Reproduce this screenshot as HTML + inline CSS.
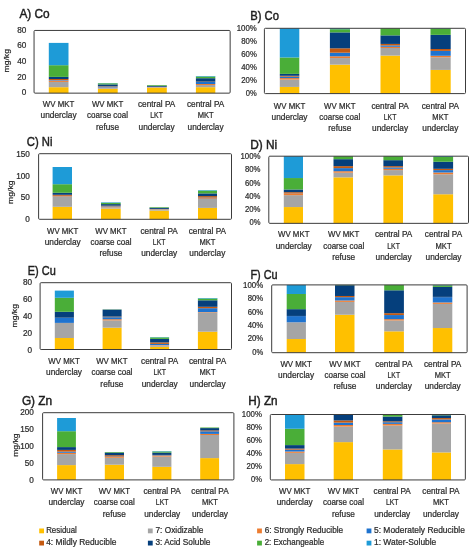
<!DOCTYPE html>
<html><head><meta charset="utf-8"><title>Figure</title>
<style>
html,body{margin:0;padding:0;background:#fff;}
body{width:471px;height:550px;overflow:hidden;}
svg{display:block;will-change:transform;filter:blur(0.35px);}
text{font-family:"Liberation Sans", sans-serif;fill:#2b2b2b;stroke:#2b2b2b;stroke-width:0.22px;}
</style></head><body>
<svg width="471" height="550" viewBox="0 0 471 550">
<rect width="471" height="550" fill="#fff"/>
<rect x="48.8" y="87.2" width="19.7" height="5.95" fill="#FFC000"/>
<rect x="48.8" y="81.9" width="19.7" height="5.3" fill="#A5A5A5"/>
<rect x="48.8" y="80.5" width="19.7" height="1.4" fill="#ED7D31"/>
<rect x="48.8" y="80" width="19.7" height="0.5" fill="#1E73CF"/>
<rect x="48.8" y="79" width="19.7" height="1" fill="#C55A11"/>
<rect x="48.8" y="76.9" width="19.7" height="2.1" fill="#053F7C"/>
<rect x="48.8" y="65.2" width="19.7" height="11.7" fill="#4AAE38"/>
<rect x="48.8" y="42.9" width="19.7" height="22.3" fill="#1E9BD7"/>
<rect x="97.9" y="88.8" width="19.8" height="4.35" fill="#FFC000"/>
<rect x="97.9" y="87.9" width="19.8" height="0.9" fill="#A5A5A5"/>
<rect x="97.9" y="87.5" width="19.8" height="0.4" fill="#ED7D31"/>
<rect x="97.9" y="86.6" width="19.8" height="0.9" fill="#1E73CF"/>
<rect x="97.9" y="86.2" width="19.8" height="0.4" fill="#C55A11"/>
<rect x="97.9" y="84.4" width="19.8" height="1.8" fill="#053F7C"/>
<rect x="97.9" y="83.3" width="19.8" height="1.1" fill="#4AAE38"/>
<rect x="97.9" y="83.1" width="19.8" height="0.2" fill="#1E9BD7"/>
<rect x="147" y="87.7" width="19.8" height="5.45" fill="#FFC000"/>
<rect x="147" y="87.3" width="19.8" height="0.4" fill="#A5A5A5"/>
<rect x="147" y="87.1" width="19.8" height="0.2" fill="#ED7D31"/>
<rect x="147" y="86.95" width="19.8" height="0.15" fill="#1E73CF"/>
<rect x="147" y="86.75" width="19.8" height="0.2" fill="#C55A11"/>
<rect x="147" y="85.8" width="19.8" height="0.95" fill="#053F7C"/>
<rect x="147" y="85.1" width="19.8" height="0.7" fill="#4AAE38"/>
<rect x="195.9" y="87.2" width="19.4" height="5.95" fill="#FFC000"/>
<rect x="195.9" y="85" width="19.4" height="2.2" fill="#A5A5A5"/>
<rect x="195.9" y="84" width="19.4" height="1" fill="#ED7D31"/>
<rect x="195.9" y="82" width="19.4" height="2" fill="#1E73CF"/>
<rect x="195.9" y="81.6" width="19.4" height="0.4" fill="#C55A11"/>
<rect x="195.9" y="78.2" width="19.4" height="3.4" fill="#053F7C"/>
<rect x="195.9" y="76.5" width="19.4" height="1.7" fill="#4AAE38"/>
<rect x="195.9" y="76" width="19.4" height="0.5" fill="#1E9BD7"/>
<rect x="34.05" y="30.45" width="196.1" height="62.7" rx="1" fill="none" stroke="#3C3C3C" stroke-width="1.0"/>
<text x="26.35" y="95.3" text-anchor="end" font-size="8.2">0</text>
<text x="26.35" y="79.63" text-anchor="end" font-size="8.2">20</text>
<text x="26.35" y="63.95" text-anchor="end" font-size="8.2">40</text>
<text x="26.35" y="48.27" text-anchor="end" font-size="8.2">60</text>
<text x="26.35" y="32.6" text-anchor="end" font-size="8.2">80</text>
<text x="58.56" y="107" text-anchor="middle" font-size="8.2" textLength="31.4" lengthAdjust="spacingAndGlyphs">WV MKT</text>
<text x="58.56" y="118.3" text-anchor="middle" font-size="8.2" textLength="36" lengthAdjust="spacingAndGlyphs">underclay</text>
<text x="107.59" y="107" text-anchor="middle" font-size="8.2" textLength="31.4" lengthAdjust="spacingAndGlyphs">WV MKT</text>
<text x="107.59" y="118.3" text-anchor="middle" font-size="8.2" textLength="41" lengthAdjust="spacingAndGlyphs">coarse coal</text>
<text x="107.59" y="129.6" text-anchor="middle" font-size="8.2" textLength="23" lengthAdjust="spacingAndGlyphs">refuse</text>
<text x="156.61" y="107" text-anchor="middle" font-size="8.2" textLength="37.3" lengthAdjust="spacingAndGlyphs">central PA</text>
<text x="156.61" y="118.3" text-anchor="middle" font-size="8.2" textLength="12.6" lengthAdjust="spacingAndGlyphs">LKT</text>
<text x="156.61" y="129.6" text-anchor="middle" font-size="8.2" textLength="36" lengthAdjust="spacingAndGlyphs">underclay</text>
<text x="205.64" y="107" text-anchor="middle" font-size="8.2" textLength="37.3" lengthAdjust="spacingAndGlyphs">central PA</text>
<text x="205.64" y="118.3" text-anchor="middle" font-size="8.2" textLength="16" lengthAdjust="spacingAndGlyphs">MKT</text>
<text x="205.64" y="129.6" text-anchor="middle" font-size="8.2" textLength="36" lengthAdjust="spacingAndGlyphs">underclay</text>
<text x="19.4" y="17.8" font-size="12.3" textLength="30.3" lengthAdjust="spacingAndGlyphs" style="fill:#1e1e1e;stroke:#1e1e1e;stroke-width:0.45px">A) Co</text>
<text transform="translate(8.9 60.8) rotate(-90)" text-anchor="middle" font-size="8" textLength="23.5" lengthAdjust="spacingAndGlyphs">mg/kg</text>
<rect x="279.8" y="86.93" width="19.5" height="6.67" fill="#FFC000"/>
<rect x="279.8" y="79.56" width="19.5" height="7.37" fill="#A5A5A5"/>
<rect x="279.8" y="78.07" width="19.5" height="1.49" fill="#ED7D31"/>
<rect x="279.8" y="76.68" width="19.5" height="1.39" fill="#1E73CF"/>
<rect x="279.8" y="75.78" width="19.5" height="0.9" fill="#C55A11"/>
<rect x="279.8" y="73.89" width="19.5" height="1.89" fill="#053F7C"/>
<rect x="279.8" y="57.47" width="19.5" height="16.42" fill="#4AAE38"/>
<rect x="279.8" y="28.3" width="19.5" height="29.17" fill="#1E9BD7"/>
<rect x="329.9" y="64.63" width="20.1" height="28.97" fill="#FFC000"/>
<rect x="329.9" y="58.06" width="20.1" height="6.57" fill="#A5A5A5"/>
<rect x="329.9" y="56.27" width="20.1" height="1.79" fill="#ED7D31"/>
<rect x="329.9" y="52.69" width="20.1" height="3.58" fill="#1E73CF"/>
<rect x="329.9" y="48.31" width="20.1" height="4.38" fill="#C55A11"/>
<rect x="329.9" y="32.38" width="20.1" height="15.93" fill="#053F7C"/>
<rect x="329.9" y="29.2" width="20.1" height="3.19" fill="#4AAE38"/>
<rect x="329.9" y="28.3" width="20.1" height="0.9" fill="#1E9BD7"/>
<rect x="380.5" y="55.57" width="19.5" height="38.03" fill="#FFC000"/>
<rect x="380.5" y="48.01" width="19.5" height="7.57" fill="#A5A5A5"/>
<rect x="380.5" y="46.81" width="19.5" height="1.19" fill="#ED7D31"/>
<rect x="380.5" y="45.42" width="19.5" height="1.39" fill="#1E73CF"/>
<rect x="380.5" y="43.93" width="19.5" height="1.49" fill="#C55A11"/>
<rect x="380.5" y="35.37" width="19.5" height="8.56" fill="#053F7C"/>
<rect x="380.5" y="28.3" width="19.5" height="7.07" fill="#4AAE38"/>
<rect x="430.5" y="69.91" width="20.2" height="23.69" fill="#FFC000"/>
<rect x="430.5" y="57.27" width="20.2" height="12.64" fill="#A5A5A5"/>
<rect x="430.5" y="55.77" width="20.2" height="1.49" fill="#ED7D31"/>
<rect x="430.5" y="50.9" width="20.2" height="4.88" fill="#1E73CF"/>
<rect x="430.5" y="49" width="20.2" height="1.89" fill="#C55A11"/>
<rect x="430.5" y="34.87" width="20.2" height="14.14" fill="#053F7C"/>
<rect x="430.5" y="28.7" width="20.2" height="6.17" fill="#4AAE38"/>
<rect x="430.5" y="28.3" width="20.2" height="0.4" fill="#1E9BD7"/>
<rect x="264.4" y="28.3" width="201.1" height="65.3" rx="1" fill="none" stroke="#3C3C3C" stroke-width="1.0"/>
<text x="256.8" y="96.4" text-anchor="end" font-size="8.2" textLength="10.96" lengthAdjust="spacingAndGlyphs">0%</text>
<text x="256.8" y="83.36" text-anchor="end" font-size="8.2" textLength="15.52" lengthAdjust="spacingAndGlyphs">20%</text>
<text x="256.8" y="70.32" text-anchor="end" font-size="8.2" textLength="15.52" lengthAdjust="spacingAndGlyphs">40%</text>
<text x="256.8" y="57.28" text-anchor="end" font-size="8.2" textLength="15.52" lengthAdjust="spacingAndGlyphs">60%</text>
<text x="256.8" y="44.24" text-anchor="end" font-size="8.2" textLength="15.52" lengthAdjust="spacingAndGlyphs">80%</text>
<text x="256.8" y="31.2" text-anchor="end" font-size="8.2" textLength="20.08" lengthAdjust="spacingAndGlyphs">100%</text>
<text x="289.54" y="108.8" text-anchor="middle" font-size="8.2" textLength="31.4" lengthAdjust="spacingAndGlyphs">WV MKT</text>
<text x="289.54" y="120.1" text-anchor="middle" font-size="8.2" textLength="36" lengthAdjust="spacingAndGlyphs">underclay</text>
<text x="339.81" y="108.8" text-anchor="middle" font-size="8.2" textLength="31.4" lengthAdjust="spacingAndGlyphs">WV MKT</text>
<text x="339.81" y="120.1" text-anchor="middle" font-size="8.2" textLength="41" lengthAdjust="spacingAndGlyphs">coarse coal</text>
<text x="339.81" y="131.4" text-anchor="middle" font-size="8.2" textLength="23" lengthAdjust="spacingAndGlyphs">refuse</text>
<text x="390.09" y="108.8" text-anchor="middle" font-size="8.2" textLength="37.3" lengthAdjust="spacingAndGlyphs">central PA</text>
<text x="390.09" y="120.1" text-anchor="middle" font-size="8.2" textLength="12.6" lengthAdjust="spacingAndGlyphs">LKT</text>
<text x="390.09" y="131.4" text-anchor="middle" font-size="8.2" textLength="36" lengthAdjust="spacingAndGlyphs">underclay</text>
<text x="440.36" y="108.8" text-anchor="middle" font-size="8.2" textLength="37.3" lengthAdjust="spacingAndGlyphs">central PA</text>
<text x="440.36" y="120.1" text-anchor="middle" font-size="8.2" textLength="16" lengthAdjust="spacingAndGlyphs">MKT</text>
<text x="440.36" y="131.4" text-anchor="middle" font-size="8.2" textLength="36" lengthAdjust="spacingAndGlyphs">underclay</text>
<text x="250.2" y="20" font-size="12.3" textLength="28.7" lengthAdjust="spacingAndGlyphs" style="fill:#1e1e1e;stroke:#1e1e1e;stroke-width:0.45px">B) Co</text>
<rect x="52.6" y="206.8" width="19.4" height="12.5" fill="#FFC000"/>
<rect x="52.6" y="196.8" width="19.4" height="10" fill="#A5A5A5"/>
<rect x="52.6" y="196.2" width="19.4" height="0.6" fill="#ED7D31"/>
<rect x="52.6" y="195.8" width="19.4" height="0.4" fill="#1E73CF"/>
<rect x="52.6" y="194.8" width="19.4" height="1" fill="#C55A11"/>
<rect x="52.6" y="192.8" width="19.4" height="2" fill="#053F7C"/>
<rect x="52.6" y="184.2" width="19.4" height="8.6" fill="#4AAE38"/>
<rect x="52.6" y="167" width="19.4" height="17.2" fill="#1E9BD7"/>
<rect x="101" y="208.6" width="19.7" height="10.7" fill="#FFC000"/>
<rect x="101" y="207.2" width="19.7" height="1.4" fill="#A5A5A5"/>
<rect x="101" y="206.8" width="19.7" height="0.4" fill="#ED7D31"/>
<rect x="101" y="206.3" width="19.7" height="0.5" fill="#1E73CF"/>
<rect x="101" y="205.7" width="19.7" height="0.6" fill="#C55A11"/>
<rect x="101" y="204.1" width="19.7" height="1.6" fill="#053F7C"/>
<rect x="101" y="202.8" width="19.7" height="1.3" fill="#4AAE38"/>
<rect x="101" y="202.3" width="19.7" height="0.5" fill="#1E9BD7"/>
<rect x="149.5" y="210.6" width="19.4" height="8.7" fill="#FFC000"/>
<rect x="149.5" y="209.7" width="19.4" height="0.9" fill="#A5A5A5"/>
<rect x="149.5" y="209.4" width="19.4" height="0.3" fill="#ED7D31"/>
<rect x="149.5" y="209.2" width="19.4" height="0.2" fill="#1E73CF"/>
<rect x="149.5" y="208.9" width="19.4" height="0.3" fill="#C55A11"/>
<rect x="149.5" y="207.8" width="19.4" height="1.1" fill="#053F7C"/>
<rect x="149.5" y="207.2" width="19.4" height="0.6" fill="#4AAE38"/>
<rect x="198" y="207.9" width="19" height="11.4" fill="#FFC000"/>
<rect x="198" y="199" width="19" height="8.9" fill="#A5A5A5"/>
<rect x="198" y="198.2" width="19" height="0.8" fill="#ED7D31"/>
<rect x="198" y="197.6" width="19" height="0.6" fill="#1E73CF"/>
<rect x="198" y="196.1" width="19" height="1.5" fill="#C55A11"/>
<rect x="198" y="193.4" width="19" height="2.7" fill="#053F7C"/>
<rect x="198" y="190.6" width="19" height="2.8" fill="#4AAE38"/>
<rect x="198" y="190.1" width="19" height="0.5" fill="#1E9BD7"/>
<rect x="38.6" y="153.7" width="192.9" height="65.6" rx="1" fill="none" stroke="#3C3C3C" stroke-width="1.0"/>
<text x="29.9" y="222.1" text-anchor="end" font-size="8.2">0</text>
<text x="29.9" y="200.3" text-anchor="end" font-size="8.2">50</text>
<text x="29.9" y="178.5" text-anchor="end" font-size="8.2">100</text>
<text x="29.9" y="156.7" text-anchor="end" font-size="8.2">150</text>
<text x="62.71" y="233.6" text-anchor="middle" font-size="8.2" textLength="31.4" lengthAdjust="spacingAndGlyphs">WV MKT</text>
<text x="62.71" y="244.9" text-anchor="middle" font-size="8.2" textLength="36" lengthAdjust="spacingAndGlyphs">underclay</text>
<text x="110.94" y="233.6" text-anchor="middle" font-size="8.2" textLength="31.4" lengthAdjust="spacingAndGlyphs">WV MKT</text>
<text x="110.94" y="244.9" text-anchor="middle" font-size="8.2" textLength="41" lengthAdjust="spacingAndGlyphs">coarse coal</text>
<text x="110.94" y="256.2" text-anchor="middle" font-size="8.2" textLength="23" lengthAdjust="spacingAndGlyphs">refuse</text>
<text x="159.16" y="233.6" text-anchor="middle" font-size="8.2" textLength="37.3" lengthAdjust="spacingAndGlyphs">central PA</text>
<text x="159.16" y="244.9" text-anchor="middle" font-size="8.2" textLength="12.6" lengthAdjust="spacingAndGlyphs">LKT</text>
<text x="159.16" y="256.2" text-anchor="middle" font-size="8.2" textLength="36" lengthAdjust="spacingAndGlyphs">underclay</text>
<text x="207.39" y="233.6" text-anchor="middle" font-size="8.2" textLength="37.3" lengthAdjust="spacingAndGlyphs">central PA</text>
<text x="207.39" y="244.9" text-anchor="middle" font-size="8.2" textLength="16" lengthAdjust="spacingAndGlyphs">MKT</text>
<text x="207.39" y="256.2" text-anchor="middle" font-size="8.2" textLength="36" lengthAdjust="spacingAndGlyphs">underclay</text>
<text x="26.8" y="145.6" font-size="12.3" textLength="25.7" lengthAdjust="spacingAndGlyphs" style="fill:#1e1e1e;stroke:#1e1e1e;stroke-width:0.45px">C) Ni</text>
<text transform="translate(13.3 192.2) rotate(-90)" text-anchor="middle" font-size="8" textLength="23.5" lengthAdjust="spacingAndGlyphs">mg/kg</text>
<rect x="283.8" y="207.06" width="19.2" height="16.29" fill="#FFC000"/>
<rect x="283.8" y="195.14" width="19.2" height="11.92" fill="#A5A5A5"/>
<rect x="283.8" y="193.15" width="19.2" height="1.99" fill="#ED7D31"/>
<rect x="283.8" y="192.95" width="19.2" height="0.2" fill="#1E73CF"/>
<rect x="283.8" y="192.16" width="19.2" height="0.79" fill="#C55A11"/>
<rect x="283.8" y="189.48" width="19.2" height="2.68" fill="#053F7C"/>
<rect x="283.8" y="178.05" width="19.2" height="11.42" fill="#4AAE38"/>
<rect x="283.8" y="156.2" width="19.2" height="21.85" fill="#1E9BD7"/>
<rect x="333.5" y="177.36" width="19.5" height="45.99" fill="#FFC000"/>
<rect x="333.5" y="172.69" width="19.5" height="4.67" fill="#A5A5A5"/>
<rect x="333.5" y="171.2" width="19.5" height="1.49" fill="#ED7D31"/>
<rect x="333.5" y="168.12" width="19.5" height="3.08" fill="#1E73CF"/>
<rect x="333.5" y="166.13" width="19.5" height="1.99" fill="#C55A11"/>
<rect x="333.5" y="159.18" width="19.5" height="6.95" fill="#053F7C"/>
<rect x="333.5" y="156.2" width="19.5" height="2.98" fill="#4AAE38"/>
<rect x="383.4" y="175.37" width="19.6" height="47.98" fill="#FFC000"/>
<rect x="383.4" y="170.11" width="19.6" height="5.26" fill="#A5A5A5"/>
<rect x="383.4" y="168.82" width="19.6" height="1.29" fill="#ED7D31"/>
<rect x="383.4" y="167.42" width="19.6" height="1.39" fill="#1E73CF"/>
<rect x="383.4" y="166.13" width="19.6" height="1.29" fill="#C55A11"/>
<rect x="383.4" y="160.17" width="19.6" height="5.96" fill="#053F7C"/>
<rect x="383.4" y="156.2" width="19.6" height="3.97" fill="#4AAE38"/>
<rect x="433.3" y="194.25" width="19.8" height="29.1" fill="#FFC000"/>
<rect x="433.3" y="174.28" width="19.8" height="19.97" fill="#A5A5A5"/>
<rect x="433.3" y="172.49" width="19.8" height="1.79" fill="#ED7D31"/>
<rect x="433.3" y="170.11" width="19.8" height="2.38" fill="#1E73CF"/>
<rect x="433.3" y="168.82" width="19.8" height="1.29" fill="#C55A11"/>
<rect x="433.3" y="161.76" width="19.8" height="7.05" fill="#053F7C"/>
<rect x="433.3" y="156.9" width="19.8" height="4.87" fill="#4AAE38"/>
<rect x="433.3" y="156.2" width="19.8" height="0.7" fill="#1E9BD7"/>
<rect x="268.8" y="156.2" width="199.7" height="67.15" rx="1" fill="none" stroke="#3C3C3C" stroke-width="1.0"/>
<text x="260.5" y="225.4" text-anchor="end" font-size="8.2" textLength="10.96" lengthAdjust="spacingAndGlyphs">0%</text>
<text x="260.5" y="212.1" text-anchor="end" font-size="8.2" textLength="15.52" lengthAdjust="spacingAndGlyphs">20%</text>
<text x="260.5" y="198.8" text-anchor="end" font-size="8.2" textLength="15.52" lengthAdjust="spacingAndGlyphs">40%</text>
<text x="260.5" y="185.5" text-anchor="end" font-size="8.2" textLength="15.52" lengthAdjust="spacingAndGlyphs">60%</text>
<text x="260.5" y="172.2" text-anchor="end" font-size="8.2" textLength="15.52" lengthAdjust="spacingAndGlyphs">80%</text>
<text x="260.5" y="158.9" text-anchor="end" font-size="8.2" textLength="20.08" lengthAdjust="spacingAndGlyphs">100%</text>
<text x="293.76" y="237.2" text-anchor="middle" font-size="8.2" textLength="31.4" lengthAdjust="spacingAndGlyphs">WV MKT</text>
<text x="293.76" y="248.5" text-anchor="middle" font-size="8.2" textLength="36" lengthAdjust="spacingAndGlyphs">underclay</text>
<text x="343.69" y="237.2" text-anchor="middle" font-size="8.2" textLength="31.4" lengthAdjust="spacingAndGlyphs">WV MKT</text>
<text x="343.69" y="248.5" text-anchor="middle" font-size="8.2" textLength="41" lengthAdjust="spacingAndGlyphs">coarse coal</text>
<text x="343.69" y="259.8" text-anchor="middle" font-size="8.2" textLength="23" lengthAdjust="spacingAndGlyphs">refuse</text>
<text x="393.61" y="237.2" text-anchor="middle" font-size="8.2" textLength="37.3" lengthAdjust="spacingAndGlyphs">central PA</text>
<text x="393.61" y="248.5" text-anchor="middle" font-size="8.2" textLength="12.6" lengthAdjust="spacingAndGlyphs">LKT</text>
<text x="393.61" y="259.8" text-anchor="middle" font-size="8.2" textLength="36" lengthAdjust="spacingAndGlyphs">underclay</text>
<text x="443.54" y="237.2" text-anchor="middle" font-size="8.2" textLength="37.3" lengthAdjust="spacingAndGlyphs">central PA</text>
<text x="443.54" y="248.5" text-anchor="middle" font-size="8.2" textLength="16" lengthAdjust="spacingAndGlyphs">MKT</text>
<text x="443.54" y="259.8" text-anchor="middle" font-size="8.2" textLength="36" lengthAdjust="spacingAndGlyphs">underclay</text>
<text x="250.2" y="148.8" font-size="12.3" textLength="27" lengthAdjust="spacingAndGlyphs" style="fill:#1e1e1e;stroke:#1e1e1e;stroke-width:0.45px">D) Ni</text>
<rect x="54.8" y="338" width="19.1" height="11.5" fill="#FFC000"/>
<rect x="54.8" y="323" width="19.1" height="15" fill="#A5A5A5"/>
<rect x="54.8" y="322.9" width="19.1" height="0.1" fill="#ED7D31"/>
<rect x="54.8" y="317.8" width="19.1" height="5.1" fill="#1E73CF"/>
<rect x="54.8" y="317.7" width="19.1" height="0.1" fill="#C55A11"/>
<rect x="54.8" y="311.8" width="19.1" height="5.9" fill="#053F7C"/>
<rect x="54.8" y="297.8" width="19.1" height="14" fill="#4AAE38"/>
<rect x="54.8" y="290.6" width="19.1" height="7.2" fill="#1E9BD7"/>
<rect x="102.6" y="327.7" width="19" height="21.8" fill="#FFC000"/>
<rect x="102.6" y="320.4" width="19" height="7.3" fill="#A5A5A5"/>
<rect x="102.6" y="319.2" width="19" height="1.2" fill="#ED7D31"/>
<rect x="102.6" y="317.2" width="19" height="2" fill="#1E73CF"/>
<rect x="102.6" y="316.6" width="19" height="0.6" fill="#C55A11"/>
<rect x="102.6" y="309.6" width="19" height="7" fill="#053F7C"/>
<rect x="102.6" y="309.4" width="19" height="0.2" fill="#4AAE38"/>
<rect x="150.1" y="346.8" width="19" height="2.7" fill="#FFC000"/>
<rect x="150.1" y="345.5" width="19" height="1.3" fill="#A5A5A5"/>
<rect x="150.1" y="345.1" width="19" height="0.4" fill="#ED7D31"/>
<rect x="150.1" y="343.9" width="19" height="1.2" fill="#1E73CF"/>
<rect x="150.1" y="342.4" width="19" height="1.5" fill="#C55A11"/>
<rect x="150.1" y="338.9" width="19" height="3.5" fill="#053F7C"/>
<rect x="150.1" y="337.4" width="19" height="1.5" fill="#4AAE38"/>
<rect x="150.1" y="337.1" width="19" height="0.3" fill="#1E9BD7"/>
<rect x="197.9" y="331.7" width="19.5" height="17.8" fill="#FFC000"/>
<rect x="197.9" y="312.6" width="19.5" height="19.1" fill="#A5A5A5"/>
<rect x="197.9" y="312.1" width="19.5" height="0.5" fill="#ED7D31"/>
<rect x="197.9" y="308.2" width="19.5" height="3.9" fill="#1E73CF"/>
<rect x="197.9" y="306.8" width="19.5" height="1.4" fill="#C55A11"/>
<rect x="197.9" y="300.3" width="19.5" height="6.5" fill="#053F7C"/>
<rect x="197.9" y="298.5" width="19.5" height="1.8" fill="#4AAE38"/>
<rect x="197.9" y="298" width="19.5" height="0.5" fill="#1E9BD7"/>
<rect x="40.1" y="282.7" width="191.4" height="66.8" rx="1" fill="none" stroke="#3C3C3C" stroke-width="1.0"/>
<text x="32" y="352.5" text-anchor="end" font-size="8.2">0</text>
<text x="32" y="335.57" text-anchor="end" font-size="8.2">20</text>
<text x="32" y="318.65" text-anchor="end" font-size="8.2">40</text>
<text x="32" y="301.72" text-anchor="end" font-size="8.2">60</text>
<text x="32" y="284.8" text-anchor="end" font-size="8.2">80</text>
<text x="64.03" y="363.9" text-anchor="middle" font-size="8.2" textLength="31.4" lengthAdjust="spacingAndGlyphs">WV MKT</text>
<text x="64.03" y="375.2" text-anchor="middle" font-size="8.2" textLength="36" lengthAdjust="spacingAndGlyphs">underclay</text>
<text x="111.88" y="363.9" text-anchor="middle" font-size="8.2" textLength="31.4" lengthAdjust="spacingAndGlyphs">WV MKT</text>
<text x="111.88" y="375.2" text-anchor="middle" font-size="8.2" textLength="41" lengthAdjust="spacingAndGlyphs">coarse coal</text>
<text x="111.88" y="386.5" text-anchor="middle" font-size="8.2" textLength="23" lengthAdjust="spacingAndGlyphs">refuse</text>
<text x="159.72" y="363.9" text-anchor="middle" font-size="8.2" textLength="37.3" lengthAdjust="spacingAndGlyphs">central PA</text>
<text x="159.72" y="375.2" text-anchor="middle" font-size="8.2" textLength="12.6" lengthAdjust="spacingAndGlyphs">LKT</text>
<text x="159.72" y="386.5" text-anchor="middle" font-size="8.2" textLength="36" lengthAdjust="spacingAndGlyphs">underclay</text>
<text x="207.57" y="363.9" text-anchor="middle" font-size="8.2" textLength="37.3" lengthAdjust="spacingAndGlyphs">central PA</text>
<text x="207.57" y="375.2" text-anchor="middle" font-size="8.2" textLength="16" lengthAdjust="spacingAndGlyphs">MKT</text>
<text x="207.57" y="386.5" text-anchor="middle" font-size="8.2" textLength="36" lengthAdjust="spacingAndGlyphs">underclay</text>
<text x="27.8" y="275" font-size="12.3" textLength="28" lengthAdjust="spacingAndGlyphs" style="fill:#1e1e1e;stroke:#1e1e1e;stroke-width:0.45px">E) Cu</text>
<text transform="translate(16.7 315.8) rotate(-90)" text-anchor="middle" font-size="8" textLength="23.5" lengthAdjust="spacingAndGlyphs">mg/kg</text>
<rect x="286.7" y="339.02" width="19.2" height="13.68" fill="#FFC000"/>
<rect x="286.7" y="322.44" width="19.2" height="16.58" fill="#A5A5A5"/>
<rect x="286.7" y="322.34" width="19.2" height="0.1" fill="#ED7D31"/>
<rect x="286.7" y="316.05" width="19.2" height="6.29" fill="#1E73CF"/>
<rect x="286.7" y="315.95" width="19.2" height="0.1" fill="#C55A11"/>
<rect x="286.7" y="309.16" width="19.2" height="6.79" fill="#053F7C"/>
<rect x="286.7" y="293.99" width="19.2" height="15.18" fill="#4AAE38"/>
<rect x="286.7" y="284.9" width="19.2" height="9.09" fill="#1E9BD7"/>
<rect x="335" y="314.76" width="19.5" height="37.94" fill="#FFC000"/>
<rect x="335" y="301.87" width="19.5" height="12.88" fill="#A5A5A5"/>
<rect x="335" y="300.48" width="19.5" height="1.4" fill="#ED7D31"/>
<rect x="335" y="297.18" width="19.5" height="3.3" fill="#1E73CF"/>
<rect x="335" y="295.98" width="19.5" height="1.2" fill="#C55A11"/>
<rect x="335" y="285.2" width="19.5" height="10.78" fill="#053F7C"/>
<rect x="335" y="284.9" width="19.5" height="0.3" fill="#4AAE38"/>
<rect x="384.2" y="331.33" width="19.7" height="21.37" fill="#FFC000"/>
<rect x="384.2" y="320.45" width="19.7" height="10.88" fill="#A5A5A5"/>
<rect x="384.2" y="319.15" width="19.7" height="1.3" fill="#ED7D31"/>
<rect x="384.2" y="315.06" width="19.7" height="4.09" fill="#1E73CF"/>
<rect x="384.2" y="313.16" width="19.7" height="1.9" fill="#C55A11"/>
<rect x="384.2" y="290.29" width="19.7" height="22.87" fill="#053F7C"/>
<rect x="384.2" y="284.9" width="19.7" height="5.39" fill="#4AAE38"/>
<rect x="432.8" y="328.04" width="19.5" height="24.66" fill="#FFC000"/>
<rect x="432.8" y="303.87" width="19.5" height="24.16" fill="#A5A5A5"/>
<rect x="432.8" y="302.47" width="19.5" height="1.4" fill="#ED7D31"/>
<rect x="432.8" y="297.08" width="19.5" height="5.39" fill="#1E73CF"/>
<rect x="432.8" y="296.88" width="19.5" height="0.2" fill="#C55A11"/>
<rect x="432.8" y="286.9" width="19.5" height="9.99" fill="#053F7C"/>
<rect x="432.8" y="285.3" width="19.5" height="1.6" fill="#4AAE38"/>
<rect x="432.8" y="284.9" width="19.5" height="0.4" fill="#1E9BD7"/>
<rect x="271.7" y="284.9" width="195.4" height="67.8" rx="1" fill="none" stroke="#3C3C3C" stroke-width="1.0"/>
<text x="263.2" y="354.75" text-anchor="end" font-size="8.2" textLength="10.96" lengthAdjust="spacingAndGlyphs">0%</text>
<text x="263.2" y="341.38" text-anchor="end" font-size="8.2" textLength="15.52" lengthAdjust="spacingAndGlyphs">20%</text>
<text x="263.2" y="328.01" text-anchor="end" font-size="8.2" textLength="15.52" lengthAdjust="spacingAndGlyphs">40%</text>
<text x="263.2" y="314.64" text-anchor="end" font-size="8.2" textLength="15.52" lengthAdjust="spacingAndGlyphs">60%</text>
<text x="263.2" y="301.27" text-anchor="end" font-size="8.2" textLength="15.52" lengthAdjust="spacingAndGlyphs">80%</text>
<text x="263.2" y="287.9" text-anchor="end" font-size="8.2" textLength="20.08" lengthAdjust="spacingAndGlyphs">100%</text>
<text x="296.12" y="366.8" text-anchor="middle" font-size="8.2" textLength="31.4" lengthAdjust="spacingAndGlyphs">WV MKT</text>
<text x="296.12" y="378.1" text-anchor="middle" font-size="8.2" textLength="36" lengthAdjust="spacingAndGlyphs">underclay</text>
<text x="344.98" y="366.8" text-anchor="middle" font-size="8.2" textLength="31.4" lengthAdjust="spacingAndGlyphs">WV MKT</text>
<text x="344.98" y="378.1" text-anchor="middle" font-size="8.2" textLength="41" lengthAdjust="spacingAndGlyphs">coarse coal</text>
<text x="344.98" y="389.4" text-anchor="middle" font-size="8.2" textLength="23" lengthAdjust="spacingAndGlyphs">refuse</text>
<text x="393.83" y="366.8" text-anchor="middle" font-size="8.2" textLength="37.3" lengthAdjust="spacingAndGlyphs">central PA</text>
<text x="393.83" y="378.1" text-anchor="middle" font-size="8.2" textLength="12.6" lengthAdjust="spacingAndGlyphs">LKT</text>
<text x="393.83" y="389.4" text-anchor="middle" font-size="8.2" textLength="36" lengthAdjust="spacingAndGlyphs">underclay</text>
<text x="442.68" y="366.8" text-anchor="middle" font-size="8.2" textLength="37.3" lengthAdjust="spacingAndGlyphs">central PA</text>
<text x="442.68" y="378.1" text-anchor="middle" font-size="8.2" textLength="16" lengthAdjust="spacingAndGlyphs">MKT</text>
<text x="442.68" y="389.4" text-anchor="middle" font-size="8.2" textLength="36" lengthAdjust="spacingAndGlyphs">underclay</text>
<text x="250.4" y="278.6" font-size="12.3" textLength="27.2" lengthAdjust="spacingAndGlyphs" style="fill:#1e1e1e;stroke:#1e1e1e;stroke-width:0.45px">F) Cu</text>
<rect x="57.1" y="465.1" width="18.8" height="14.8" fill="#FFC000"/>
<rect x="57.1" y="454.1" width="18.8" height="11" fill="#A5A5A5"/>
<rect x="57.1" y="452.8" width="18.8" height="1.3" fill="#ED7D31"/>
<rect x="57.1" y="451.6" width="18.8" height="1.2" fill="#1E73CF"/>
<rect x="57.1" y="449.9" width="18.8" height="1.7" fill="#C55A11"/>
<rect x="57.1" y="447.1" width="18.8" height="2.8" fill="#053F7C"/>
<rect x="57.1" y="431.2" width="18.8" height="15.9" fill="#4AAE38"/>
<rect x="57.1" y="418" width="18.8" height="13.2" fill="#1E9BD7"/>
<rect x="104.8" y="464.7" width="19.2" height="15.2" fill="#FFC000"/>
<rect x="104.8" y="457.8" width="19.2" height="6.9" fill="#A5A5A5"/>
<rect x="104.8" y="457" width="19.2" height="0.8" fill="#ED7D31"/>
<rect x="104.8" y="456.5" width="19.2" height="0.5" fill="#1E73CF"/>
<rect x="104.8" y="455.2" width="19.2" height="1.3" fill="#C55A11"/>
<rect x="104.8" y="452.6" width="19.2" height="2.6" fill="#053F7C"/>
<rect x="104.8" y="452" width="19.2" height="0.6" fill="#4AAE38"/>
<rect x="152.3" y="466.8" width="19.1" height="13.1" fill="#FFC000"/>
<rect x="152.3" y="456.6" width="19.1" height="10.2" fill="#A5A5A5"/>
<rect x="152.3" y="455.8" width="19.1" height="0.8" fill="#ED7D31"/>
<rect x="152.3" y="455.3" width="19.1" height="0.5" fill="#1E73CF"/>
<rect x="152.3" y="454.9" width="19.1" height="0.4" fill="#C55A11"/>
<rect x="152.3" y="452.6" width="19.1" height="2.3" fill="#053F7C"/>
<rect x="152.3" y="451.5" width="19.1" height="1.1" fill="#4AAE38"/>
<rect x="152.3" y="451.1" width="19.1" height="0.4" fill="#1E9BD7"/>
<rect x="200.2" y="458.1" width="18.9" height="21.8" fill="#FFC000"/>
<rect x="200.2" y="435" width="18.9" height="23.1" fill="#A5A5A5"/>
<rect x="200.2" y="433.9" width="18.9" height="1.1" fill="#ED7D31"/>
<rect x="200.2" y="431.3" width="18.9" height="2.6" fill="#1E73CF"/>
<rect x="200.2" y="430.4" width="18.9" height="0.9" fill="#C55A11"/>
<rect x="200.2" y="428.1" width="18.9" height="2.3" fill="#053F7C"/>
<rect x="200.2" y="427.5" width="18.9" height="0.6" fill="#4AAE38"/>
<rect x="42.6" y="412.7" width="191.3" height="67.2" rx="1" fill="none" stroke="#3C3C3C" stroke-width="1.0"/>
<text x="33.9" y="482.6" text-anchor="end" font-size="8.2">0</text>
<text x="33.9" y="465.7" text-anchor="end" font-size="8.2">50</text>
<text x="33.9" y="448.8" text-anchor="end" font-size="8.2">100</text>
<text x="33.9" y="431.9" text-anchor="end" font-size="8.2">150</text>
<text x="33.9" y="415" text-anchor="end" font-size="8.2">200</text>
<text x="66.51" y="494.1" text-anchor="middle" font-size="8.2" textLength="31.4" lengthAdjust="spacingAndGlyphs">WV MKT</text>
<text x="66.51" y="505.4" text-anchor="middle" font-size="8.2" textLength="36" lengthAdjust="spacingAndGlyphs">underclay</text>
<text x="114.34" y="494.1" text-anchor="middle" font-size="8.2" textLength="31.4" lengthAdjust="spacingAndGlyphs">WV MKT</text>
<text x="114.34" y="505.4" text-anchor="middle" font-size="8.2" textLength="41" lengthAdjust="spacingAndGlyphs">coarse coal</text>
<text x="114.34" y="516.7" text-anchor="middle" font-size="8.2" textLength="23" lengthAdjust="spacingAndGlyphs">refuse</text>
<text x="162.16" y="494.1" text-anchor="middle" font-size="8.2" textLength="37.3" lengthAdjust="spacingAndGlyphs">central PA</text>
<text x="162.16" y="505.4" text-anchor="middle" font-size="8.2" textLength="12.6" lengthAdjust="spacingAndGlyphs">LKT</text>
<text x="162.16" y="516.7" text-anchor="middle" font-size="8.2" textLength="36" lengthAdjust="spacingAndGlyphs">underclay</text>
<text x="209.99" y="494.1" text-anchor="middle" font-size="8.2" textLength="37.3" lengthAdjust="spacingAndGlyphs">central PA</text>
<text x="209.99" y="505.4" text-anchor="middle" font-size="8.2" textLength="16" lengthAdjust="spacingAndGlyphs">MKT</text>
<text x="209.99" y="516.7" text-anchor="middle" font-size="8.2" textLength="36" lengthAdjust="spacingAndGlyphs">underclay</text>
<text x="21.9" y="404.7" font-size="12.3" textLength="30.3" lengthAdjust="spacingAndGlyphs" style="fill:#1e1e1e;stroke:#1e1e1e;stroke-width:0.45px">G) Zn</text>
<text transform="translate(17.5 445.1) rotate(-90)" text-anchor="middle" font-size="8" textLength="23.5" lengthAdjust="spacingAndGlyphs">mg/kg</text>
<rect x="285" y="464.11" width="19.5" height="15.84" fill="#FFC000"/>
<rect x="285" y="452.82" width="19.5" height="11.29" fill="#A5A5A5"/>
<rect x="285" y="451.53" width="19.5" height="1.29" fill="#ED7D31"/>
<rect x="285" y="449.65" width="19.5" height="1.88" fill="#1E73CF"/>
<rect x="285" y="448.56" width="19.5" height="1.09" fill="#C55A11"/>
<rect x="285" y="445.1" width="19.5" height="3.47" fill="#053F7C"/>
<rect x="285" y="428.76" width="19.5" height="16.34" fill="#4AAE38"/>
<rect x="285" y="414.5" width="19.5" height="14.26" fill="#1E9BD7"/>
<rect x="333.7" y="442.13" width="19.3" height="37.82" fill="#FFC000"/>
<rect x="333.7" y="426.58" width="19.3" height="15.55" fill="#A5A5A5"/>
<rect x="333.7" y="425" width="19.3" height="1.58" fill="#ED7D31"/>
<rect x="333.7" y="422.62" width="19.3" height="2.38" fill="#1E73CF"/>
<rect x="333.7" y="420.44" width="19.3" height="2.18" fill="#C55A11"/>
<rect x="333.7" y="414.9" width="19.3" height="5.54" fill="#053F7C"/>
<rect x="333.7" y="414.5" width="19.3" height="0.4" fill="#4AAE38"/>
<rect x="382.8" y="449.45" width="19.6" height="30.5" fill="#FFC000"/>
<rect x="382.8" y="425.49" width="19.6" height="23.96" fill="#A5A5A5"/>
<rect x="382.8" y="423.91" width="19.6" height="1.58" fill="#ED7D31"/>
<rect x="382.8" y="422.22" width="19.6" height="1.68" fill="#1E73CF"/>
<rect x="382.8" y="421.33" width="19.6" height="0.89" fill="#C55A11"/>
<rect x="382.8" y="416.58" width="19.6" height="4.75" fill="#053F7C"/>
<rect x="382.8" y="415" width="19.6" height="1.58" fill="#4AAE38"/>
<rect x="382.8" y="414.5" width="19.6" height="0.5" fill="#1E9BD7"/>
<rect x="431.9" y="452.42" width="19.1" height="27.53" fill="#FFC000"/>
<rect x="431.9" y="423.51" width="19.1" height="28.91" fill="#A5A5A5"/>
<rect x="431.9" y="422.22" width="19.1" height="1.29" fill="#ED7D31"/>
<rect x="431.9" y="419.45" width="19.1" height="2.77" fill="#1E73CF"/>
<rect x="431.9" y="418.06" width="19.1" height="1.39" fill="#C55A11"/>
<rect x="431.9" y="415.29" width="19.1" height="2.77" fill="#053F7C"/>
<rect x="431.9" y="414.5" width="19.1" height="0.79" fill="#4AAE38"/>
<rect x="270.3" y="414.5" width="195.05" height="65.45" rx="1" fill="none" stroke="#3C3C3C" stroke-width="1.0"/>
<text x="261.9" y="482.45" text-anchor="end" font-size="8.2" textLength="10.96" lengthAdjust="spacingAndGlyphs">0%</text>
<text x="261.9" y="469.37" text-anchor="end" font-size="8.2" textLength="15.52" lengthAdjust="spacingAndGlyphs">20%</text>
<text x="261.9" y="456.29" text-anchor="end" font-size="8.2" textLength="15.52" lengthAdjust="spacingAndGlyphs">40%</text>
<text x="261.9" y="443.21" text-anchor="end" font-size="8.2" textLength="15.52" lengthAdjust="spacingAndGlyphs">60%</text>
<text x="261.9" y="430.13" text-anchor="end" font-size="8.2" textLength="15.52" lengthAdjust="spacingAndGlyphs">80%</text>
<text x="261.9" y="417.05" text-anchor="end" font-size="8.2" textLength="20.08" lengthAdjust="spacingAndGlyphs">100%</text>
<text x="294.68" y="493.9" text-anchor="middle" font-size="8.2" textLength="31.4" lengthAdjust="spacingAndGlyphs">WV MKT</text>
<text x="294.68" y="505.2" text-anchor="middle" font-size="8.2" textLength="36" lengthAdjust="spacingAndGlyphs">underclay</text>
<text x="343.44" y="493.9" text-anchor="middle" font-size="8.2" textLength="31.4" lengthAdjust="spacingAndGlyphs">WV MKT</text>
<text x="343.44" y="505.2" text-anchor="middle" font-size="8.2" textLength="41" lengthAdjust="spacingAndGlyphs">coarse coal</text>
<text x="343.44" y="516.5" text-anchor="middle" font-size="8.2" textLength="23" lengthAdjust="spacingAndGlyphs">refuse</text>
<text x="392.21" y="493.9" text-anchor="middle" font-size="8.2" textLength="37.3" lengthAdjust="spacingAndGlyphs">central PA</text>
<text x="392.21" y="505.2" text-anchor="middle" font-size="8.2" textLength="12.6" lengthAdjust="spacingAndGlyphs">LKT</text>
<text x="392.21" y="516.5" text-anchor="middle" font-size="8.2" textLength="36" lengthAdjust="spacingAndGlyphs">underclay</text>
<text x="440.97" y="493.9" text-anchor="middle" font-size="8.2" textLength="37.3" lengthAdjust="spacingAndGlyphs">central PA</text>
<text x="440.97" y="505.2" text-anchor="middle" font-size="8.2" textLength="16" lengthAdjust="spacingAndGlyphs">MKT</text>
<text x="440.97" y="516.5" text-anchor="middle" font-size="8.2" textLength="36" lengthAdjust="spacingAndGlyphs">underclay</text>
<text x="248.3" y="405.4" font-size="12.3" textLength="29.3" lengthAdjust="spacingAndGlyphs" style="fill:#1e1e1e;stroke:#1e1e1e;stroke-width:0.45px">H) Zn</text>
<rect x="39.2" y="528.5" width="4.8" height="4.8" fill="#FFC000"/>
<text x="46.2" y="532.8" font-size="8.2" textLength="30.6" lengthAdjust="spacingAndGlyphs">Residual</text>
<rect x="147.9" y="528.5" width="4.8" height="4.8" fill="#A5A5A5"/>
<text x="155.5" y="532.8" font-size="8.2" textLength="47.9" lengthAdjust="spacingAndGlyphs">7: Oxidizable</text>
<rect x="257.1" y="528.5" width="4.8" height="4.8" fill="#ED7D31"/>
<text x="264.7" y="532.8" font-size="8.2" textLength="78.5" lengthAdjust="spacingAndGlyphs">6: Strongly Reducible</text>
<rect x="366.6" y="528.5" width="4.8" height="4.8" fill="#1E73CF"/>
<text x="374" y="532.8" font-size="8.2" textLength="90.9" lengthAdjust="spacingAndGlyphs">5: Moderately Reducible</text>
<rect x="39.2" y="540.7" width="4.8" height="4.8" fill="#C55A11"/>
<text x="46.2" y="545.3" font-size="8.2" textLength="70.3" lengthAdjust="spacingAndGlyphs">4: Mildly Reducible</text>
<rect x="147.9" y="540.7" width="4.8" height="4.8" fill="#053F7C"/>
<text x="155.5" y="545.3" font-size="8.2" textLength="55" lengthAdjust="spacingAndGlyphs">3: Acid Soluble</text>
<rect x="257.1" y="540.7" width="4.8" height="4.8" fill="#4AAE38"/>
<text x="264.7" y="545.3" font-size="8.2" textLength="59.4" lengthAdjust="spacingAndGlyphs">2: Exchangeable</text>
<rect x="366.6" y="540.7" width="4.8" height="4.8" fill="#1E9BD7"/>
<text x="374" y="545.3" font-size="8.2" textLength="62.3" lengthAdjust="spacingAndGlyphs">1: Water-Soluble</text>
</svg>
</body></html>
